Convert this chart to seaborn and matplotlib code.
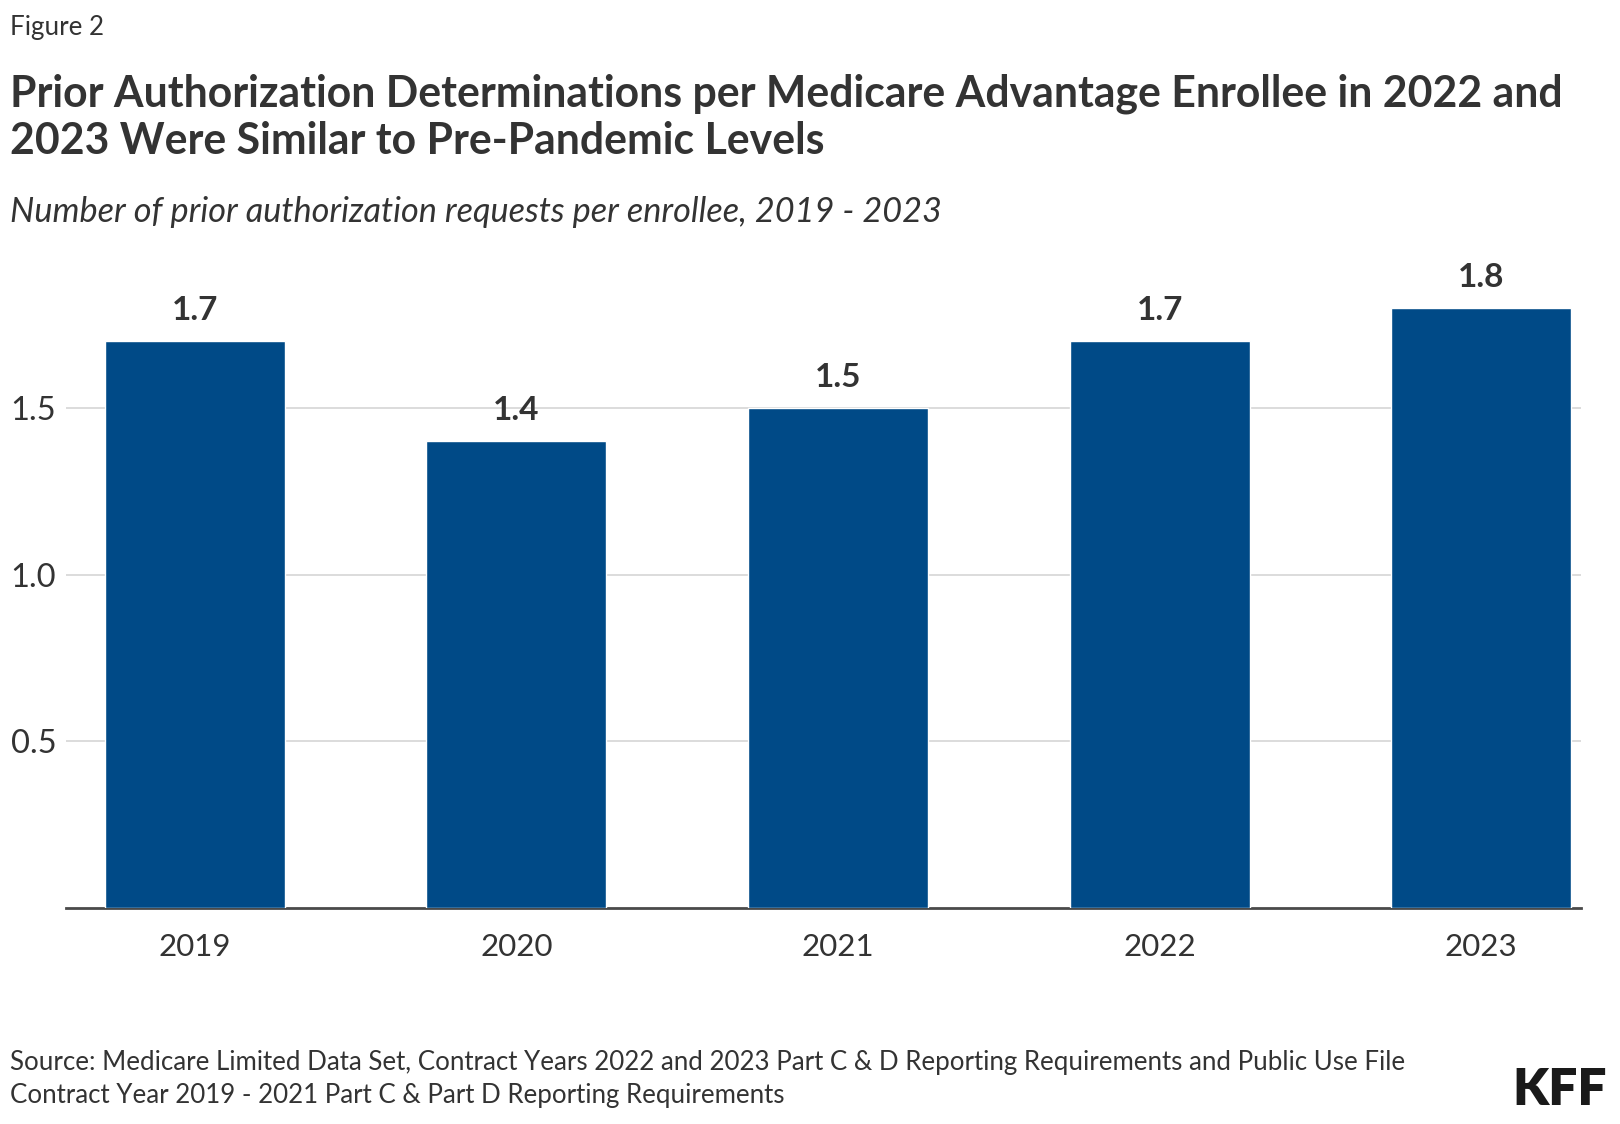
import matplotlib
matplotlib.use("Agg")
import matplotlib.pyplot as plt
import seaborn as sns
import pandas as pd

# data
years = ["2019", "2020", "2021", "2022", "2023"]
requests_per_enrollee = [1.7, 1.4, 1.5, 1.7, 1.8]
y_ticks = [0.5, 1.0, 1.5]
y_tick_labels = ["0.5", "1.0", "1.5"]

title = ("Prior Authorization Determinations per Medicare Advantage Enrollee in 2022 and\n"
         "2023 Were Similar to Pre-Pandemic Levels")
subtitle = "Number of prior authorization requests per enrollee, 2019 - 2023"
source = ("Source: Medicare Limited Data Set, Contract Years 2022 and 2023 Part C & D Reporting Requirements and Public Use File\n"
          "Contract Year 2019 - 2021 Part C & Part D Reporting Requirements")

df = pd.DataFrame({"year": years, "value": requests_per_enrollee})

sns.set_theme(style="white")
plt.rcParams["font.family"] = ["Lato", "DejaVu Sans"]

W, H = 1620, 1124
fig = plt.figure(figsize=(W / 100, H / 100), dpi=100)

# axes in pixel positions
left, right, top, bottom = 66, 1581, 290, 908
ax = fig.add_axes([left / W, 1 - bottom / H, (right - left) / W, (bottom - top) / H])

bar_color = "#004a87"
text_color = "#333333"

sns.barplot(data=df, x="year", y="value", color=bar_color, width=0.56,
            saturation=1, ax=ax, zorder=3)

ax.set_xlim(-0.4, 4.31)
ax.set_ylim(0, 1.8 * (bottom - top) / (bottom - 308))
ax.set_yticks(y_ticks)
ax.set_yticklabels(y_tick_labels)
ax.yaxis.grid(True, color="#d6d6d6", linewidth=1.2, zorder=0)
ax.set_axisbelow(True)
ax.set_xlabel("")
ax.set_ylabel("")
for s in ["top", "right", "left"]:
    ax.spines[s].set_visible(False)
ax.spines["bottom"].set_color("#4a4a4a")
ax.spines["bottom"].set_linewidth(2)
ax.tick_params(axis="x", length=0, labelsize=22.5, colors=text_color, pad=18)
ax.tick_params(axis="y", length=0, labelsize=23.5, colors=text_color, pad=7)

for i, v in enumerate(requests_per_enrollee):
    ax.annotate(f"{v:.1f}", (i, v), xytext=(0, 16), textcoords="offset pixels",
                ha="center", va="bottom", fontsize=24, fontweight="bold",
                color=text_color, clip_on=False)


def ftext(x, y, s, **kw):
    fig.text(x / W, 1 - y / H, s, **kw)


ftext(10, 28, "Figure 2", fontsize=18.7, color=text_color, va="center")
ftext(10, 117, title, fontsize=30.8, fontweight="bold", color=text_color,
      va="center", linespacing=1.2)
ftext(10, 212, subtitle, fontsize=24.7, style="italic", color=text_color, va="center")
ftext(10, 1079, source, fontsize=18.6, color=text_color, va="center", linespacing=1.42)
ftext(1607, 1090, "KFF", fontsize=37, fontweight="heavy", color="#1a1a1a",
      va="center", ha="right")

fig.savefig("out.png", dpi=100, facecolor="white")
